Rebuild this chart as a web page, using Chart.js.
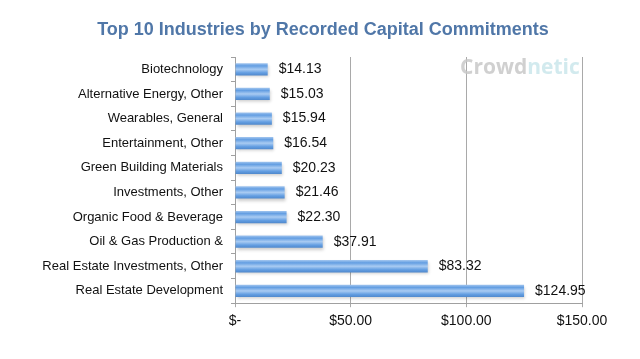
<!DOCTYPE html>
<html>
<head>
<meta charset="utf-8">
<script src="https://cdn.jsdelivr.net/npm/chart.js@4/dist/chart.umd.min.js"></script>
<style>
html,body{margin:0;padding:0;background:#fff;}
#wrap{width:640px;height:359px;position:relative;}
</style>
</head>
<body>
<div id="wrap"><canvas id="c" width="640" height="359"></canvas></div>
<script>
const titleText = "Top 10 Industries by Recorded Capital Commitments";
const categories = [
  "Biotechnology",
  "Alternative Energy, Other",
  "Wearables, General",
  "Entertainment, Other",
  "Green Building Materials",
  "Investments, Other",
  "Organic Food & Beverage",
  "Oil & Gas Production &",
  "Real Estate Investments, Other",
  "Real Estate Development"
];
const commitments = [14.13, 15.03, 15.94, 16.54, 20.23, 21.46, 22.30, 37.91, 83.32, 124.95];
const tickValues = [0, 50, 100, 150];
const tickLabels = ["$-", "$50.00", "$100.00", "$150.00"];
const watermarkA = "Crowd";
const watermarkB = "netic";

const FONT = "'Liberation Sans', Arial, sans-serif";

function barGradient(ctx) {
  const chart = ctx.chart;
  if (!chart.chartArea || !chart.scales.y) return '#6aa0e0';
  const ys = chart.scales.y;
  const y = ys.getPixelForValue(ctx.dataIndex);
  const band = Math.abs(ys.getPixelForValue(1) - ys.getPixelForValue(0));
  const half = band * 0.25;
  const g = chart.ctx.createLinearGradient(0, y - half, 0, y + half);
  g.addColorStop(0, '#a3c6ef');
  g.addColorStop(0.22, '#639ee2');
  g.addColorStop(0.5, '#a9cbf2');
  g.addColorStop(0.78, '#639ee2');
  g.addColorStop(1, '#4f88cc');
  return g;
}

const shadowPlugin = {
  id: 'barShadow',
  beforeDatasetsDraw(chart) {
    const c = chart.ctx;
    c.save();
    c.shadowColor = 'rgba(0,0,0,0.2)';
    c.shadowBlur = 3;
    c.shadowOffsetX = 1;
    c.shadowOffsetY = 2;
  },
  afterDatasetsDraw(chart) {
    chart.ctx.restore();
  }
};

const labelsPlugin = {
  id: 'valueLabels',
  afterDraw(chart) {
    const c = chart.ctx;
    const meta = chart.getDatasetMeta(0);
    c.save();
    c.font = "14px " + FONT;
    c.fillStyle = '#111';
    c.textAlign = 'left';
    c.textBaseline = 'middle';
    meta.data.forEach((bar, i) => {
      c.fillText('$' + commitments[i].toFixed(2), bar.x + 11, bar.y);
    });
    // title, centred on the page
    c.font = "bold 18px " + FONT;
    c.fillStyle = '#5077a8';
    c.textAlign = 'center';
    c.fillText(titleText, 323, 30);
    c.restore();
  }
};

const watermarkPlugin = {
  id: 'watermark',
  beforeDatasetsDraw(chart) {
    const c = chart.ctx;
    c.save();
    c.font = "bold 21px 'Open Sans', " + FONT;
    c.textBaseline = 'middle';
    c.textAlign = 'left';
    const x = 460, y = 68;
    c.fillStyle = 'rgba(200,200,200,0.85)';
    c.fillText(watermarkA, x, y);
    const w = c.measureText(watermarkA).width;
    c.fillStyle = 'rgba(205,232,236,0.9)';
    c.fillText(watermarkB, x + w, y);
    c.restore();
  }
};

new Chart(document.getElementById('c'), {
  type: 'bar',
  data: {
    labels: categories,
    datasets: [{
      data: commitments,
      backgroundColor: barGradient,
      borderWidth: 0,
      barPercentage: 0.5,
      categoryPercentage: 1.0
    }]
  },
  options: {
    indexAxis: 'y',
    responsive: false,
    animation: false,
    layout: { padding: { left: 0, right: 58, top: 57, bottom: 23 } },
    plugins: {
      legend: { display: false },
      tooltip: { enabled: false },
      title: { display: false }
    },
    scales: {
      x: {
        min: 0,
        max: 150,
        afterBuildTicks(scale) { scale.ticks = tickValues.map(v => ({ value: v })); },
        ticks: {
          color: '#111',
          font: { family: FONT, size: 14 },
          padding: 6,
          maxRotation: 0,
          callback(v) { const i = tickValues.indexOf(v); return i >= 0 ? tickLabels[i] : ''; }
        },
        grid: { color: '#a9a9a9', lineWidth: 1, drawTicks: true, tickLength: 4 },
        border: { color: '#a0a0a0', width: 1 }
      },
      y: {
        afterFit(scale) { scale.width = 235; },
        ticks: {
          color: '#111',
          font: { family: FONT, size: 13 },
          padding: 8,
          autoSkip: false
        },
        grid: { drawOnChartArea: false, drawTicks: true, tickLength: 4, color: '#a0a0a0', offset: true },
        border: { color: '#a0a0a0', width: 1 }
      }
    }
  },
  plugins: [watermarkPlugin, shadowPlugin, labelsPlugin]
});
</script>
</body>
</html>
